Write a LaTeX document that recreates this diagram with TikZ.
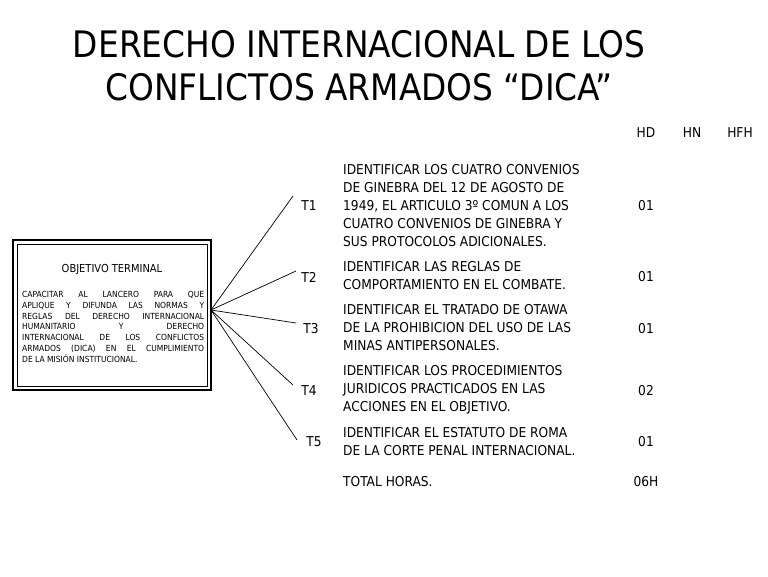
\documentclass[tikz,border=0pt]{standalone}
\usepackage{fontspec}
\setmainfont{DejaVu Sans}
\newfontfamily\cond{DejaVu Sans Condensed}
\newcommand{\jl}[1]{\hbox to 182pt{#1}}
\begin{document}
\begin{tikzpicture}[x=1pt,y=-1pt,
 t/.style={anchor=west,inner sep=0pt,font=\cond\fontsize{13.6}{18}\selectfont,align=left},
 lab/.style={inner sep=0pt,font=\cond\fontsize{13.6}{16}\selectfont},
 ln/.style={line width=0.7pt}]
\useasboundingbox (0,0) rectangle (768,576);
\node[inner sep=0pt,align=center,font=\cond\fontsize{36.5}{43}\selectfont] (title) at (359,66) {DERECHO INTERNACIONAL DE LOS\\CONFLICTOS ARMADOS “DICA”};
\node[lab] (hd) at (646,133) {HD};
\node[lab] (hn) at (692,133) {HN};
\node[lab] (hfh) at (740,133) {HFH};
\draw[line width=1.6pt] (13,240) rectangle (211,390);
\draw[line width=0.5pt] (17,244) rectangle (207,386);
\node[inner sep=0pt,font=\cond\fontsize{11}{12}\selectfont] (ot) at (112,270) {OBJETIVO TERMINAL};
\node[anchor=north west,inner sep=0pt,align=left,font=\cond\fontsize{8.4}{10.8}\selectfont] (obj) at (22,291) {\jl{CAPACITAR\hfil AL\hfil LANCERO\hfil PARA\hfil QUE}\\\jl{APLIQUE\hfil Y\hfil DIFUNDA\hfil LAS\hfil NORMAS\hfil Y}\\\jl{REGLAS\hfil DEL\hfil DERECHO\hfil INTERNACIONAL}\\\jl{HUMANITARIO\hfil Y\hfil DERECHO}\\\jl{INTERNACIONAL\hfil DE\hfil LOS\hfil CONFLICTOS}\\\jl{ARMADOS\hfil (DICA)\hfil EN\hfil EL\hfil CUMPLIMIENTO}\\DE LA MISIÓN INSTITUCIONAL.};
\coordinate (c) at (211,310);
\node[lab] (t1) at (309,206) {T1};
\node[lab] (t2) at (309,277) {T2};
\node[lab] (t3) at (311,329) {T3};
\node[lab] (t4) at (309,391) {T4};
\node[lab] (t5) at (314,442) {T5};
\coordinate (e1) at (293,196);
\coordinate (e2) at (296,271);
\coordinate (e3) at (296,323);
\coordinate (e4) at (293,385);
\coordinate (e5) at (297,440);
\foreach \i in {1,...,5} \draw[ln] (c) -- (e\i);
\node[t] (d1) at (343,206) {IDENTIFICAR LOS CUATRO CONVENIOS\\DE GINEBRA DEL 12 DE AGOSTO DE\\1949, EL ARTICULO 3º COMUN A LOS\\CUATRO CONVENIOS DE GINEBRA Y\\SUS PROTOCOLOS ADICIONALES.};
\node[t] (d2) at (343,276) {IDENTIFICAR LAS REGLAS DE\\COMPORTAMIENTO EN EL COMBATE.};
\node[t] (d3) at (343,328) {IDENTIFICAR EL TRATADO DE OTAWA\\DE LA PROHIBICION DEL USO DE LAS\\MINAS ANTIPERSONALES.};
\node[t] (d4) at (343,390) {IDENTIFICAR LOS PROCEDIMIENTOS\\JURIDICOS PRACTICADOS EN LAS\\ACCIONES EN EL OBJETIVO.};
\node[t] (d5) at (343,442) {IDENTIFICAR EL ESTATUTO DE ROMA\\DE LA CORTE PENAL INTERNACIONAL.};
\node[t] (tot) at (343,482) {TOTAL HORAS.};
\node[lab] (h1) at (646,206) {01};
\node[lab] (h2) at (646,277) {01};
\node[lab] (h3) at (646,329) {01};
\node[lab] (h4) at (646,391) {02};
\node[lab] (h5) at (646,442) {01};
\node[lab] (h6) at (646,482) {06H};
\end{tikzpicture}
\end{document}
